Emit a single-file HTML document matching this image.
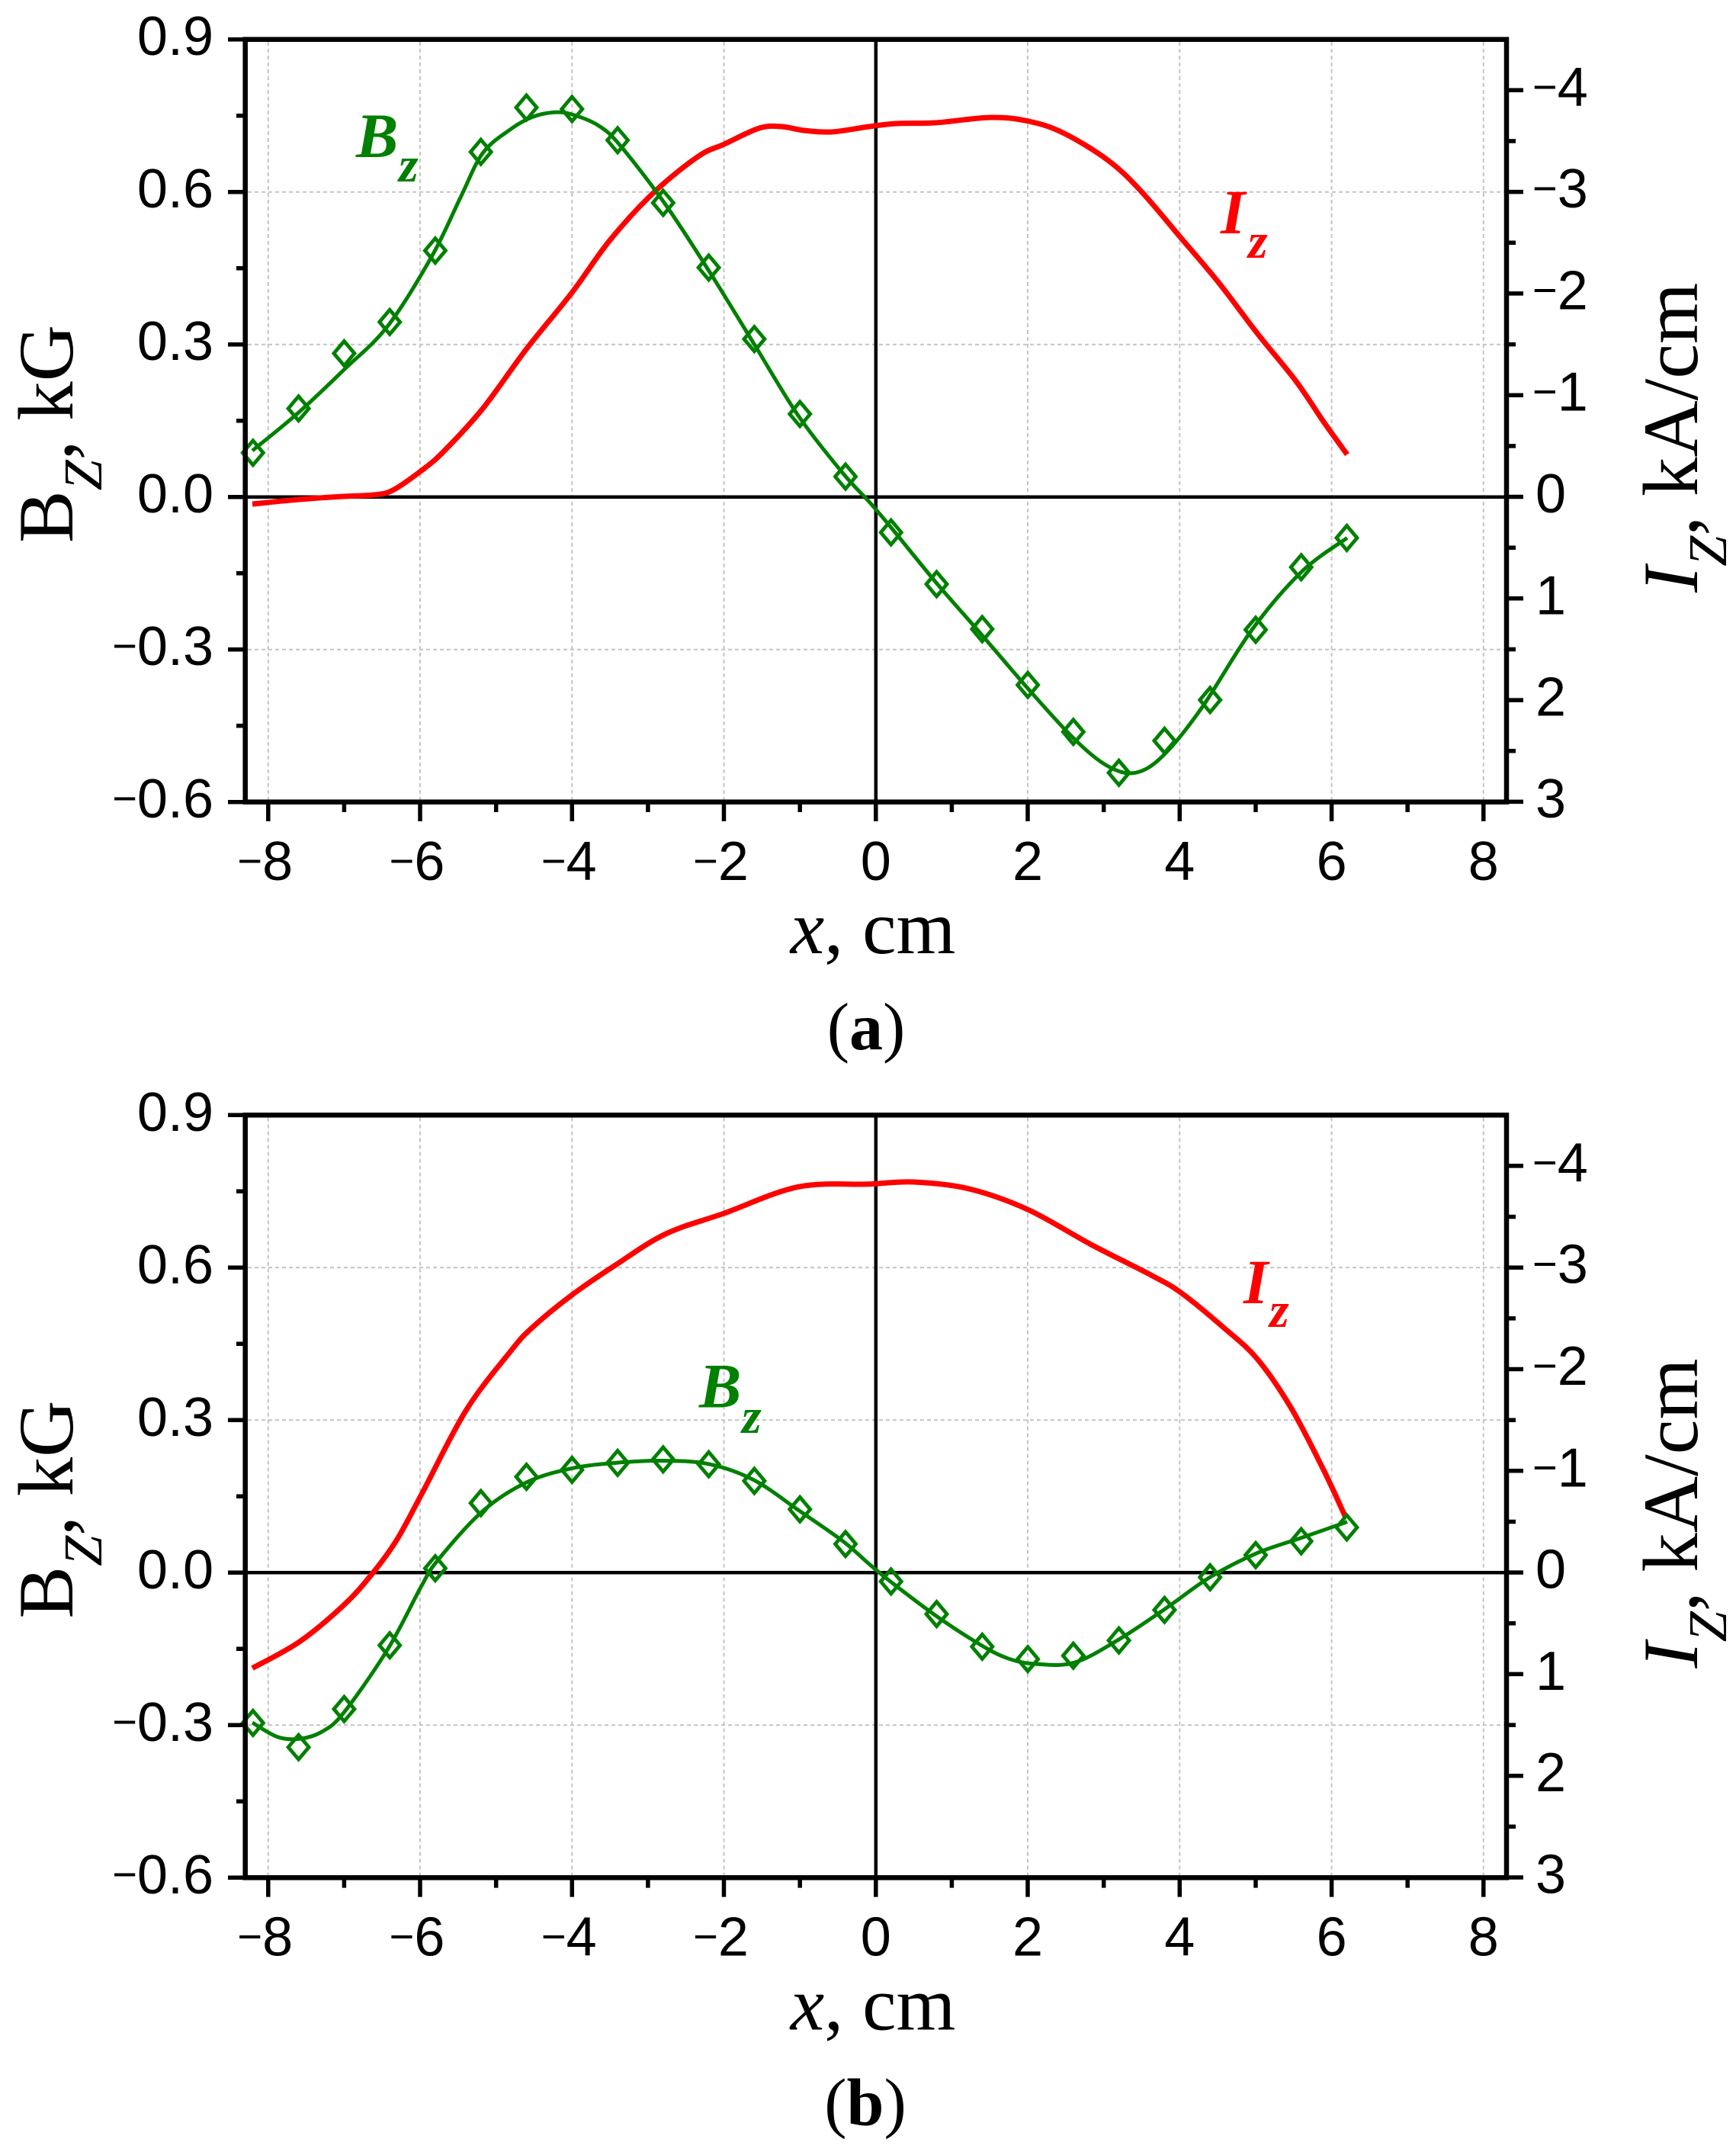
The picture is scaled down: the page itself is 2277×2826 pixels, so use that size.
<!DOCTYPE html>
<html>
<head>
<meta charset="utf-8">
<style>
html,body{margin:0;padding:0;background:#fff;}
svg{display:block;}
.tk{font-family:"Liberation Sans",Arial,sans-serif;font-size:72px;fill:#000;}
.sf{font-family:"Liberation Serif","Times New Roman",serif;fill:#000;}
</style>
</head>
<body>
<svg width="2277" height="2826" viewBox="0 0 2277 2826" xmlns="http://www.w3.org/2000/svg">
<rect x="0" y="0" width="2277" height="2826" fill="#fff"/>

<g>
  <path d="M351.8,55V1049 M551,55V1049 M750.3,55V1049 M949.5,55V1049 M1348,55V1049 M1547.3,55V1049 M1746.6,55V1049 M1945.8,55V1049 M325,251.7H1973 M325,451.7H1973 M325,851.7H1973" stroke="#c4c4c4" stroke-width="2" stroke-dasharray="5 4" fill="none"/>
  <path d="M321.7,651.7H1976 M1148.8,51.7V1051.7" stroke="#000" stroke-width="4.5" fill="none"/>
</g>
<g transform="translate(0,1410.6)">
  <path d="M351.8,55V1049 M551,55V1049 M750.3,55V1049 M949.5,55V1049 M1348,55V1049 M1547.3,55V1049 M1746.6,55V1049 M1945.8,55V1049 M325,251.7H1973 M325,451.7H1973 M325,851.7H1973" stroke="#c4c4c4" stroke-width="2" stroke-dasharray="5 4" fill="none"/>
  <path d="M321.7,651.7H1976 M1148.8,51.7V1051.7" stroke="#000" stroke-width="4.5" fill="none"/>
</g>

<!-- ===== Curves panel (a) ===== -->
<path class="sm" fill="none" stroke="#ff0000" stroke-width="7" stroke-linejoin="round" stroke-linecap="butt"
 d="M331,661 L392,655 L450,651 L490,649 L515,643 L553,617 L582,592 L633,536 L691,457 L750,384 L800,315 L858,252 L916,205 L950,189 L996,168 L1025,166 L1054,171 L1091,173 L1140,166 L1176,162 L1227,161 L1300,154 L1349,159 L1394,174 L1453,210 L1496,250 L1549,312 L1598,370 L1649,437 L1700,500 L1736,553 L1767,596"/>
<path class="sm" fill="none" stroke="#008000" stroke-width="5" stroke-linejoin="round"
 d="M331,591 L392.7,540 L451,485 L509,427 L567,335 L604,259 L633,201 L669,170 L698,153.6 L727,147.3 L750,150 L785.5,165 L814.5,192 L872.7,268 L931,357 L989,451 L1047,545 L1105.5,620.5 L1140,658 L1169,692 L1227,763 L1285.5,830 L1351,906 L1409,969 L1452.7,1004.5 L1489,1013.4 L1525.5,991 L1576,928.6 L1642,826 L1707,750 L1767,705.4"/>
<path fill="none" stroke="#008000" stroke-width="4.8" stroke-linejoin="miter"
 d="M331.8,577.8l13.5,16-13.5,16-13.5-16z
M391.6,519.7l13.5,16-13.5,16-13.5-16z
M451.4,447.4l13.5,16-13.5,16-13.5-16z
M511.2,406.3l13.5,16-13.5,16-13.5-16z
M570.9,312.6l13.5,16-13.5,16-13.5-16z
M630.7,183.2l13.5,16-13.5,16-13.5-16z
M690.5,125l13.5,16-13.5,16-13.5-16z
M750.3,127l13.5,16-13.5,16-13.5-16z
M810.1,167.9l13.5,16-13.5,16-13.5-16z
M869.8,250l13.5,16-13.5,16-13.5-16z
M929.6,334.9l13.5,16-13.5,16-13.5-16z
M989.4,428.6l13.5,16-13.5,16-13.5-16z
M1049.2,526.9l13.5,16-13.5,16-13.5-16z
M1109,609l13.5,16-13.5,16-13.5-16z
M1168.7,682.2l13.5,16-13.5,16-13.5-16z
M1228.5,750l13.5,16-13.5,16-13.5-16z
M1288.3,809l13.5,16-13.5,16-13.5-16z
M1348.1,882.2l13.5,16-13.5,16-13.5-16z
M1407.8,943.8l13.5,16-13.5,16-13.5-16z
M1467.6,997.4l13.5,16-13.5,16-13.5-16z
M1527.4,955.4l13.5,16-13.5,16-13.5-16z
M1587.2,901.9l13.5,16-13.5,16-13.5-16z
M1647,809.9l13.5,16-13.5,16-13.5-16z
M1706.7,727.8l13.5,16-13.5,16-13.5-16z
M1766.5,689.4l13.5,16-13.5,16-13.5-16z"/>

<!-- ===== Curves panel (b) ===== -->
<path class="sm" fill="none" stroke="#ff0000" stroke-width="7" stroke-linejoin="round"
 d="M331,2187.6 L392.7,2153 L451,2104.8 L488,2064 L520,2020 L552.7,1960 L611,1850 L669,1772.9 L698,1741 L750,1698.3 L807,1659.2 L872.7,1618.3 L950,1591 L1047,1556.4 L1140,1552.8 L1198,1550 L1271,1559 L1348.7,1586.4 L1431,1632 L1511,1672.8 L1549.5,1695.6 L1605,1741 L1649,1782 L1693,1845.6 L1736,1927.5 L1765.5,1991"/>
<path class="sm" fill="none" stroke="#008000" stroke-width="5" stroke-linejoin="round"
 d="M331,2259 L363.6,2277.6 L392.7,2280.3 L421.8,2271.2 L451,2245.8 L509,2162 L552.7,2080 L574.5,2045.7 L632.7,1982 L691,1943.8 L750,1925.6 L807,1918.4 L872.7,1915.6 L931,1920.2 L989,1941 L1047,1980.2 L1105.5,2021 L1140,2051 L1169,2074.8 L1227,2118.4 L1285.5,2156.6 L1322,2174.8 L1358,2182 L1409,2180.3 L1467,2150.3 L1529,2109.3 L1587,2068.4 L1649,2036.6 L1707,2016.6 L1767,1995.7"/>
<path fill="none" stroke="#008000" stroke-width="4.8" stroke-linejoin="miter"
 d="M331.8,2243.4l13.5,16-13.5,16-13.5-16z
M391.6,2275.2l13.5,16-13.5,16-13.5-16z
M451.4,2225.2l13.5,16-13.5,16-13.5-16z
M511.2,2141.6l13.5,16-13.5,16-13.5-16z
M570.9,2040.6l13.5,16-13.5,16-13.5-16z
M630.7,1955.1l13.5,16-13.5,16-13.5-16z
M690.5,1920.6l13.5,16-13.5,16-13.5-16z
M750.3,1911.5l13.5,16-13.5,16-13.5-16z
M810.1,1902.4l13.5,16-13.5,16-13.5-16z
M869.8,1897.8l13.5,16-13.5,16-13.5-16z
M929.6,1904.2l13.5,16-13.5,16-13.5-16z
M989.4,1926l13.5,16-13.5,16-13.5-16z
M1049.2,1963.3l13.5,16-13.5,16-13.5-16z
M1109,2008.8l13.5,16-13.5,16-13.5-16z
M1168.7,2057.9l13.5,16-13.5,16-13.5-16z
M1228.5,2100.6l13.5,16-13.5,16-13.5-16z
M1288.3,2143.4l13.5,16-13.5,16-13.5-16z
M1348.1,2159.7l13.5,16-13.5,16-13.5-16z
M1407.8,2155.2l13.5,16-13.5,16-13.5-16z
M1467.6,2135.2l13.5,16-13.5,16-13.5-16z
M1527.4,2095.2l13.5,16-13.5,16-13.5-16z
M1587.2,2052.4l13.5,16-13.5,16-13.5-16z
M1647,2023.3l13.5,16-13.5,16-13.5-16z
M1706.7,2005.1l13.5,16-13.5,16-13.5-16z
M1766.5,1987l13.5,16-13.5,16-13.5-16z"/>

<!-- ===== panel (a) frame, ticks, labels ===== -->
<g>
  <rect x="321.7" y="51.7" width="1654.3" height="1000" fill="none" stroke="#000" stroke-width="6.5"/>
  <path stroke="#000" stroke-width="5.5" fill="none" d="M299,51.7H322 M299,251.7H322 M299,451.7H322 M299,651.7H322 M299,851.7H322 M299,1051.7H322 M310,151.7H322 M310,351.7H322 M310,551.7H322 M310,751.7H322 M310,951.7H322 M351.8,1051V1077 M551,1051V1077 M750.3,1051V1077 M949.5,1051V1077 M1148.8,1051V1077 M1348,1051V1077 M1547.3,1051V1077 M1746.6,1051V1077 M1945.8,1051V1077 M451.4,1051V1065 M650.7,1051V1065 M849.9,1051V1065 M1049.2,1051V1065 M1248.4,1051V1065 M1447.7,1051V1065 M1647,1051V1065 M1846.2,1051V1065 M1976,118.3H1998 M1976,251.6H1998 M1976,384.9H1998 M1976,518.2H1998 M1976,651.5H1998 M1976,784.8H1998 M1976,918.1H1998 M1976,1051.4H1998 M1976,185H1988 M1976,318.3H1988 M1976,451.6H1988 M1976,584.9H1988 M1976,718.2H1988 M1976,851.5H1988 M1976,984.8H1988"/>
  <text class="tk" x="280" y="72.2" text-anchor="end">0.9</text>
  <text class="tk" x="280" y="272.2" text-anchor="end">0.6</text>
  <text class="tk" x="280" y="472.2" text-anchor="end">0.3</text>
  <text class="tk" x="280" y="672.2" text-anchor="end">0.0</text>
  <text class="tk" x="280" y="872.2" text-anchor="end"><tspan font-size="56" dy="-6">−</tspan><tspan dy="6">0.3</tspan></text>
  <text class="tk" x="280" y="1072.2" text-anchor="end"><tspan font-size="56" dy="-6">−</tspan><tspan dy="6">0.6</tspan></text>
  <text class="tk" x="2010" y="138.8"><tspan font-size="56" dy="-6">−</tspan><tspan dy="6">4</tspan></text>
  <text class="tk" x="2010" y="272.1"><tspan font-size="56" dy="-6">−</tspan><tspan dy="6">3</tspan></text>
  <text class="tk" x="2010" y="405.4"><tspan font-size="56" dy="-6">−</tspan><tspan dy="6">2</tspan></text>
  <text class="tk" x="2010" y="538.7"><tspan font-size="56" dy="-6">−</tspan><tspan dy="6">1</tspan></text>
  <text class="tk" x="2014" y="672">0</text>
  <text class="tk" x="2014" y="805.3">1</text>
  <text class="tk" x="2014" y="938.6">2</text>
  <text class="tk" x="2014" y="1071.9">3</text>
  <text class="tk" x="347.8" y="1154" text-anchor="middle"><tspan font-size="56" dy="-6">−</tspan><tspan dy="6">8</tspan></text>
  <text class="tk" x="547" y="1154" text-anchor="middle"><tspan font-size="56" dy="-6">−</tspan><tspan dy="6">6</tspan></text>
  <text class="tk" x="746.3" y="1154" text-anchor="middle"><tspan font-size="56" dy="-6">−</tspan><tspan dy="6">4</tspan></text>
  <text class="tk" x="945.5" y="1154" text-anchor="middle"><tspan font-size="56" dy="-6">−</tspan><tspan dy="6">2</tspan></text>
  <text class="tk" x="1148.8" y="1154" text-anchor="middle">0</text>
  <text class="tk" x="1348" y="1154" text-anchor="middle">2</text>
  <text class="tk" x="1547.3" y="1154" text-anchor="middle">4</text>
  <text class="tk" x="1746.6" y="1154" text-anchor="middle">6</text>
  <text class="tk" x="1945.8" y="1154" text-anchor="middle">8</text>
  <text class="sf" font-size="103" transform="translate(95,712) rotate(-90)">B<tspan font-style="italic" font-size="72" dy="38">Z</tspan><tspan dy="-38">, kG</tspan></text>
  <text class="sf" font-size="103" transform="translate(2226,777) rotate(-90)"><tspan font-style="italic">I</tspan><tspan font-style="italic" font-size="72" dy="38">Z</tspan><tspan dy="-38">, kA/cm</tspan></text>
  <text class="sf" font-size="100" x="1145" y="1250" text-anchor="middle"><tspan font-style="italic">x</tspan>, cm</text>
  <text class="sf" font-size="88" x="1136" y="1376" text-anchor="middle">(<tspan font-weight="bold">a</tspan>)</text>
  <text class="sf" x="467" y="206" font-size="83" font-weight="bold" font-style="italic" style="fill:#008000">B</text>
  <text class="sf" x="523" y="238" font-size="66" font-weight="bold" font-style="italic" style="fill:#008000">z</text>
  <text class="sf" x="1601" y="306" font-size="83" font-weight="bold" font-style="italic" style="fill:#ff0000">I</text>
  <text class="sf" x="1637" y="338" font-size="66" font-weight="bold" font-style="italic" style="fill:#ff0000">z</text>
</g>

<!-- ===== panel (b) frame, ticks, labels ===== -->
<g transform="translate(0,1410.6)">
  <rect x="321.7" y="51.7" width="1654.3" height="1000" fill="none" stroke="#000" stroke-width="6.5"/>
  <path stroke="#000" stroke-width="5.5" fill="none" d="M299,51.7H322 M299,251.7H322 M299,451.7H322 M299,651.7H322 M299,851.7H322 M299,1051.7H322 M310,151.7H322 M310,351.7H322 M310,551.7H322 M310,751.7H322 M310,951.7H322 M351.8,1051V1077 M551,1051V1077 M750.3,1051V1077 M949.5,1051V1077 M1148.8,1051V1077 M1348,1051V1077 M1547.3,1051V1077 M1746.6,1051V1077 M1945.8,1051V1077 M451.4,1051V1065 M650.7,1051V1065 M849.9,1051V1065 M1049.2,1051V1065 M1248.4,1051V1065 M1447.7,1051V1065 M1647,1051V1065 M1846.2,1051V1065 M1976,118.3H1998 M1976,251.6H1998 M1976,384.9H1998 M1976,518.2H1998 M1976,651.5H1998 M1976,784.8H1998 M1976,918.1H1998 M1976,1051.4H1998 M1976,185H1988 M1976,318.3H1988 M1976,451.6H1988 M1976,584.9H1988 M1976,718.2H1988 M1976,851.5H1988 M1976,984.8H1988"/>
  <text class="tk" x="280" y="72.2" text-anchor="end">0.9</text>
  <text class="tk" x="280" y="272.2" text-anchor="end">0.6</text>
  <text class="tk" x="280" y="472.2" text-anchor="end">0.3</text>
  <text class="tk" x="280" y="672.2" text-anchor="end">0.0</text>
  <text class="tk" x="280" y="872.2" text-anchor="end"><tspan font-size="56" dy="-6">−</tspan><tspan dy="6">0.3</tspan></text>
  <text class="tk" x="280" y="1072.2" text-anchor="end"><tspan font-size="56" dy="-6">−</tspan><tspan dy="6">0.6</tspan></text>
  <text class="tk" x="2010" y="138.8"><tspan font-size="56" dy="-6">−</tspan><tspan dy="6">4</tspan></text>
  <text class="tk" x="2010" y="272.1"><tspan font-size="56" dy="-6">−</tspan><tspan dy="6">3</tspan></text>
  <text class="tk" x="2010" y="405.4"><tspan font-size="56" dy="-6">−</tspan><tspan dy="6">2</tspan></text>
  <text class="tk" x="2010" y="538.7"><tspan font-size="56" dy="-6">−</tspan><tspan dy="6">1</tspan></text>
  <text class="tk" x="2014" y="672">0</text>
  <text class="tk" x="2014" y="805.3">1</text>
  <text class="tk" x="2014" y="938.6">2</text>
  <text class="tk" x="2014" y="1071.9">3</text>
  <text class="tk" x="347.8" y="1154" text-anchor="middle"><tspan font-size="56" dy="-6">−</tspan><tspan dy="6">8</tspan></text>
  <text class="tk" x="547" y="1154" text-anchor="middle"><tspan font-size="56" dy="-6">−</tspan><tspan dy="6">6</tspan></text>
  <text class="tk" x="746.3" y="1154" text-anchor="middle"><tspan font-size="56" dy="-6">−</tspan><tspan dy="6">4</tspan></text>
  <text class="tk" x="945.5" y="1154" text-anchor="middle"><tspan font-size="56" dy="-6">−</tspan><tspan dy="6">2</tspan></text>
  <text class="tk" x="1148.8" y="1154" text-anchor="middle">0</text>
  <text class="tk" x="1348" y="1154" text-anchor="middle">2</text>
  <text class="tk" x="1547.3" y="1154" text-anchor="middle">4</text>
  <text class="tk" x="1746.6" y="1154" text-anchor="middle">6</text>
  <text class="tk" x="1945.8" y="1154" text-anchor="middle">8</text>
  <text class="sf" font-size="103" transform="translate(95,712) rotate(-90)">B<tspan font-style="italic" font-size="72" dy="38">Z</tspan><tspan dy="-38">, kG</tspan></text>
  <text class="sf" font-size="103" transform="translate(2226,777) rotate(-90)"><tspan font-style="italic">I</tspan><tspan font-style="italic" font-size="72" dy="38">Z</tspan><tspan dy="-38">, kA/cm</tspan></text>
  <text class="sf" font-size="100" x="1145" y="1251" text-anchor="middle"><tspan font-style="italic">x</tspan>, cm</text>
  <text class="sf" font-size="88" x="1135" y="1376" text-anchor="middle">(<tspan font-weight="bold">b</tspan>)</text>
</g>
<text class="sf" x="917" y="1845.6" font-size="83" font-weight="bold" font-style="italic" style="fill:#008000">B</text>
<text class="sf" x="973" y="1879" font-size="66" font-weight="bold" font-style="italic" style="fill:#008000">z</text>
<text class="sf" x="1631" y="1709" font-size="83" font-weight="bold" font-style="italic" style="fill:#ff0000">I</text>
<text class="sf" x="1665" y="1740" font-size="66" font-weight="bold" font-style="italic" style="fill:#ff0000">z</text>
</svg>
<script>
(function(){
  var ps=document.querySelectorAll('path.sm');
  for(var k=0;k<ps.length;k++){
    var p=ps[k];
    var n=p.getAttribute('d').match(/-?[\d.]+/g).map(Number);
    var pts=[];
    for(var i=0;i+1<n.length;i+=2)pts.push([n[i],n[i+1]]);
    var d='M'+pts[0][0]+','+pts[0][1];
    for(var i=0;i<pts.length-1;i++){
      var p0=pts[i>0?i-1:i],p1=pts[i],p2=pts[i+1],p3=pts[i+2<pts.length?i+2:i+1];
      var c1x=p1[0]+(p2[0]-p0[0])/6,c1y=p1[1]+(p2[1]-p0[1])/6;
      var c2x=p2[0]-(p3[0]-p1[0])/6,c2y=p2[1]-(p3[1]-p1[1])/6;
      d+=' C'+c1x.toFixed(1)+','+c1y.toFixed(1)+' '+c2x.toFixed(1)+','+c2y.toFixed(1)+' '+p2[0]+','+p2[1];
    }
    p.setAttribute('d',d);
  }
})();
</script>
</body>
</html>
